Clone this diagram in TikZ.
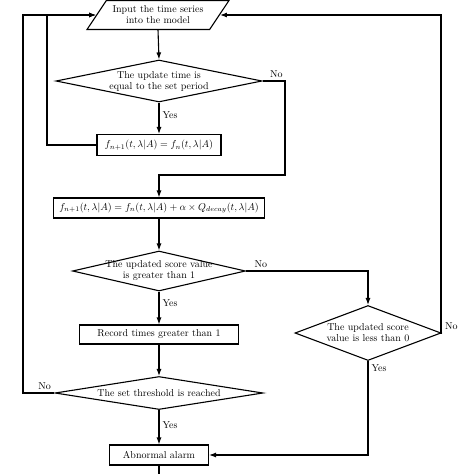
\documentclass[tikz,border=0pt]{standalone}
\usetikzlibrary{shapes.geometric,arrows.meta}
\begin{document}
\begin{tikzpicture}[x=1pt,y=-1pt,
  every node/.style={font=\fontsize{10}{11}\selectfont},
  proc/.style={draw,line width=1.1pt,rectangle,inner sep=1pt},
  decide/.style={draw,line width=1.1pt,diamond,inner sep=0pt},
  says/.style={align=center,inner sep=0pt},
  inout/.style={draw,line width=1.1pt,trapezium,trapezium left angle=46,
    trapezium right angle=134,trapezium stretches body,align=center,inner sep=1pt},
  flow/.style={line width=1.1pt,-{Latex[length=7pt,width=5pt]}},
  link/.style={line width=1.1pt},
  lbl/.style={inner sep=3pt}]
  % --- columns (px): change to taste
  \def\cx{159}   % main column
  \def\rx{368}   % right column
  \clip (0,0) rectangle (474,474);

  %---------------------------------------
  % main column
  \node[inout,minimum width=142pt,minimum height=29pt] (input) at (158,15)
    {Input the time series\\into the model};
  \node[decide,minimum width=206pt,minimum height=42pt] (upd) at (\cx,81) {};
  \node[says] (updtxt) at (upd) {The update time is\\equal to the set period};
  \node[proc,minimum width=124pt,minimum height=21pt] (keep) at (\cx,145)
    {$f_{n+1}(t,\lambda|A)=f_n(t,\lambda|A)$};
  \node[proc,minimum width=211pt,minimum height=20pt] (decay) at (\cx,208)
    {$f_{n+1}(t,\lambda|A)=f_n(t,\lambda|A)+\alpha\times Q_{decay}(t,\lambda|A)$};
  \node[decide,minimum width=173pt,minimum height=40pt] (gtone) at (\cx,271) {};
  \node[says] (gtonetxt) at (gtone) {The updated score value\\is greater than 1};
  \node[proc,minimum width=159pt,minimum height=19pt] (rec) at (\cx,334.5)
    {Record times greater than 1};
  \node[decide,minimum width=208pt,minimum height=33pt] (thr) at (\cx,393) {};
  \node[says] (thrtxt) at (thr) {The set threshold is reached};
  \node[proc,minimum width=99pt,minimum height=20pt] (alarm) at (\cx,455)
    {Abnormal alarm};

  % right column
  \node[decide,minimum width=146pt,minimum height=55pt] (ltzero) at (\rx,333) {};
  \node[says] (ltzerotxt) at (ltzero) {The updated score\\value is less than 0};

  % turning points
  \coordinate (nobend) at (285,175);
  \coordinate (innerup) at (47,15);
  \coordinate (outerup) at (23,15);
  \coordinate (rightup) at (441,15);
  \coordinate (tail) at (\cx,480);

  %---------------------------------------
  % connectors
  \draw[flow] (input.south) -- (upd.north);
  \draw[flow] (upd.south) -- node[lbl,right,pos=0.4]{Yes} (keep.north);
  \draw[flow] (upd.east) node[lbl,above right,xshift=4pt]{No} -| (nobend) -| (decay.north);
  \draw[flow] (keep.west) -| (innerup) -- (input.left side);
  \draw[flow] (decay.south) -- (gtone.north);
  \draw[flow] (gtone.south) -- node[lbl,right,pos=0.35]{Yes} (rec.north);
  \draw[flow] (gtone.east) node[lbl,above right,xshift=5pt]{No} -| (ltzero.north);
  \draw[flow] (rec.south) -- (thr.north);
  \draw[flow] (thr.west) node[lbl,above left]{No} -| (outerup) -- (input.left side);
  \draw[flow] (thr.south) -- node[lbl,right,pos=0.45]{Yes} (alarm.north);
  \draw[flow] (ltzero.east) node[lbl,above right]{No} -| (rightup) -- (input.right side);
  \draw[flow] (ltzero.south) -- ++(0,0) node[lbl,below right]{Yes} |- (alarm.east);
  \draw[link] (alarm.south) -- (tail);
\end{tikzpicture}
\end{document}
